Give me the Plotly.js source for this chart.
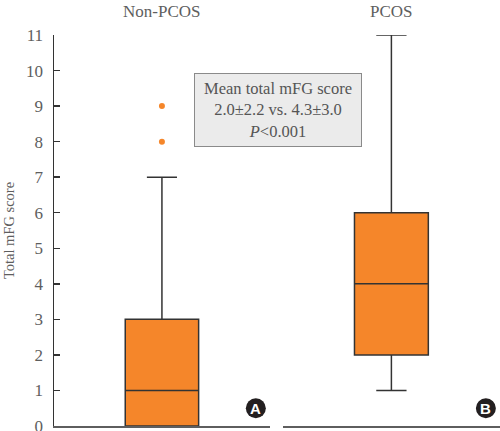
<!DOCTYPE html>
<html>
<head>
<meta charset="utf-8">
<script src="https://cdn.plot.ly/plotly-3.0.1.min.js"></script>
<style>
   body { margin: 0; background: #fff; }
   #canvas { width: 500px; height: 431px; }
</style>
</head>
<body>
<div id="canvas"></div>
<script>
// groups and their box statistics
const groups = ['Non-PCOS', 'PCOS'];
const q1 = [0, 2];
const median = [1, 4];
const q3 = [3, 6];
const lowerFence = [0, 1];
const upperFence = [7, 11];
const outlierX = ['Non-PCOS', 'Non-PCOS'];
const outlierY = [8, 9];
const panelTags = ['A', 'B'];
const yTicks = [0, 1, 2, 3, 4, 5, 6, 7, 8, 9, 10, 11];

const orange = '#f5862a';
const dark = '#333333';
const grey = '#5e5e5e';
const font = 'Liberation Serif, Times New Roman, serif';

const axisNames = ['x', 'x2'];

var traces = groups.map((g, i) => ({
   type: 'box',
   name: g,
   x: [g],
   q1: [q1[i]],
   median: [median[i]],
   q3: [q3[i]],
   lowerfence: [lowerFence[i]],
   upperfence: [upperFence[i]],
   xaxis: axisNames[i],
   yaxis: 'y',
   width: 0.34,
   whiskerwidth: 0.41,
   fillcolor: orange,
   line: { color: dark, width: 1.5 },
   boxpoints: false,
   hoverinfo: 'skip',
}));

traces.push({
   type: 'scatter',
   mode: 'markers',
   x: outlierX,
   y: outlierY,
   xaxis: 'x',
   yaxis: 'y',
   marker: { color: orange, size: 6 },
   hoverinfo: 'skip',
});

// group names sit above each panel
const annotations = groups.map((g, i) => ({
   text: g,
   x: g,
   xref: axisNames[i],
   y: 1.06,
   yref: 'paper',
   xanchor: 'center',
   yanchor: 'middle',
   showarrow: false,
   font: { family: font, size: 17, color: grey },
}));

annotations.push({
   text: 'Mean total mFG score<br>2.0\u00b12.2 vs. 4.3\u00b13.0<br><i>P</i>&lt;0.001',
   x: 0.502,
   y: 0.808,
   xref: 'paper',
   yref: 'paper',
   xanchor: 'center',
   yanchor: 'middle',
   showarrow: false,
   width: 162,
   height: 68,
   borderpad: 2,
   bgcolor: '#ebebeb',
   bordercolor: '#8a8a8a',
   borderwidth: 1,
   font: { family: font, size: 16.5, color: '#555555' },
});

const shapes = [];
panelTags.forEach((t, i) => {
   const ref = axisNames[i];
   shapes.push({
      type: 'circle',
      xref: ref + ' domain',
      yref: 'y',
      xsizemode: 'pixel',
      ysizemode: 'pixel',
      xanchor: 0.935,
      yanchor: 0.5,
      x0: -10, x1: 10, y0: -10, y1: 10,
      fillcolor: '#231f20',
      line: { width: 0 },
   });
   annotations.push({
      text: '<b>' + t + '</b>',
      xref: ref + ' domain',
      yref: 'y',
      x: 0.935,
      y: 0.5,
      xanchor: 'center',
      yanchor: 'middle',
      showarrow: false,
      font: { family: 'Liberation Sans, Arial, sans-serif', size: 15, color: '#ffffff' },
   });
});

const layout = {
   width: 500,
   height: 431,
   margin: { t: 35, b: 5, l: 54, r: 0 },
   paper_bgcolor: '#ffffff',
   plot_bgcolor: '#ffffff',
   showlegend: false,
   xaxis: {
      domain: [0, 0.484],
      range: [-0.5, 0.5],
      showticklabels: false,
      ticks: '',
      showgrid: false,
      zeroline: false,
      showline: true,
      linecolor: grey,
      linewidth: 2,
      anchor: 'y',
      fixedrange: true,
   },
   xaxis2: {
      domain: [0.513, 1],
      range: [-0.5, 0.5],
      showticklabels: false,
      ticks: '',
      showgrid: false,
      zeroline: false,
      showline: true,
      linecolor: grey,
      linewidth: 2,
      anchor: 'y',
      fixedrange: true,
   },
   yaxis: {
      range: [0, 11],
      tickvals: yTicks,
      ticks: 'inside',
      ticklen: 6,
      tickwidth: 1.5,
      tickcolor: dark,
      ticklabelstandoff: 6,
      ticklabeloverflow: 'allow',
      showgrid: false,
      zeroline: false,
      showline: true,
      linecolor: dark,
      linewidth: 1.5,
      tickfont: { family: font, size: 17, color: grey },
      title: { text: 'Total mFG score', font: { family: font, size: 14.5, color: grey }, standoff: 8 },
      fixedrange: true,
   },
   annotations: annotations,
   shapes: shapes,
};

Plotly.newPlot('canvas', traces, layout, { displayModeBar: false, staticPlot: true });
</script>
</body>
</html>
